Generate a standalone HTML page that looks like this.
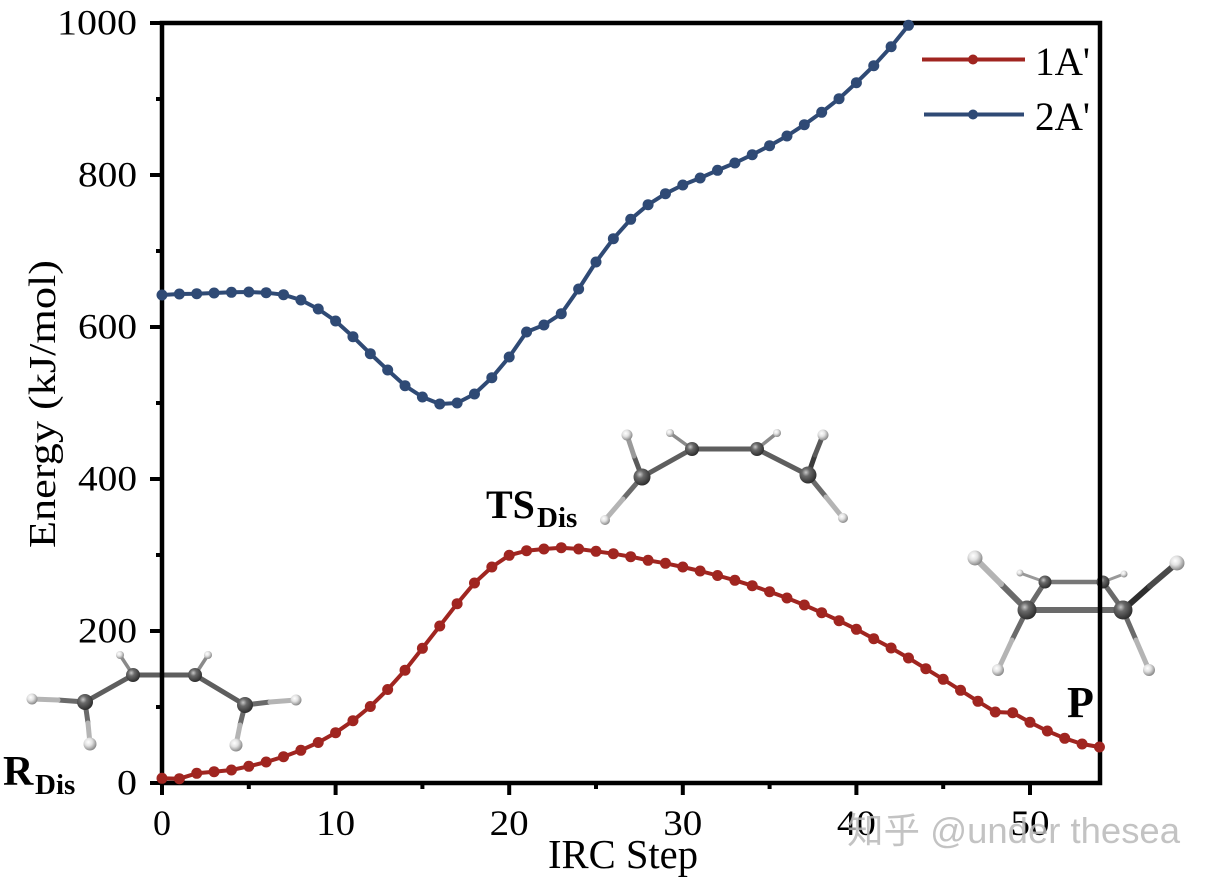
<!DOCTYPE html>
<html>
<head>
<meta charset="utf-8">
<style>
  html,body{margin:0;padding:0;background:#fff;}
  svg{display:block;}
  .tk{font-family:"Liberation Serif",serif;font-size:36px;fill:#000;}
  .bold{font-family:"Liberation Serif",serif;font-weight:bold;fill:#000;}
</style>
</head>
<body>
<svg width="1212" height="879" viewBox="0 0 1212 879" xmlns="http://www.w3.org/2000/svg">
  <defs>
    <radialGradient id="gC" cx="38%" cy="35%" r="65%">
      <stop offset="0" stop-color="#c8c8c8"/>
      <stop offset="0.35" stop-color="#6a6a6a"/>
      <stop offset="1" stop-color="#2e2e2e"/>
    </radialGradient>
    <radialGradient id="gH" cx="38%" cy="35%" r="65%">
      <stop offset="0" stop-color="#ffffff"/>
      <stop offset="0.45" stop-color="#e2e2e2"/>
      <stop offset="1" stop-color="#8a8a8a"/>
    </radialGradient>
  </defs>
  <rect width="1212" height="879" fill="#fff"/>

  <!-- Molecule R -->
  <g stroke-linecap="round">
    <line x1="85" y1="702" x2="133" y2="675" stroke="#5e5e5e" stroke-width="5"/>
    <line x1="133" y1="675" x2="195" y2="675" stroke="#5e5e5e" stroke-width="5"/>
    <line x1="195" y1="675" x2="245" y2="705" stroke="#5e5e5e" stroke-width="5"/>
    <line x1="85" y1="702" x2="58" y2="700" stroke="#6a6a6a" stroke-width="5"/>
    <line x1="58" y1="700" x2="32" y2="699" stroke="#b4b4b4" stroke-width="5"/>
    <line x1="85" y1="702" x2="88" y2="723" stroke="#6a6a6a" stroke-width="5"/>
    <line x1="88" y1="723" x2="90" y2="744" stroke="#b4b4b4" stroke-width="5"/>
    <line x1="133" y1="675" x2="120" y2="655" stroke="#8a8a8a" stroke-width="3.5"/>
    <line x1="195" y1="675" x2="208" y2="655" stroke="#8a8a8a" stroke-width="3.5"/>
    <line x1="245" y1="705" x2="270" y2="702" stroke="#6a6a6a" stroke-width="5"/>
    <line x1="270" y1="702" x2="296" y2="700" stroke="#b4b4b4" stroke-width="5"/>
    <line x1="245" y1="705" x2="240" y2="725" stroke="#6a6a6a" stroke-width="5"/>
    <line x1="240" y1="725" x2="236" y2="745" stroke="#b4b4b4" stroke-width="5"/>
    <circle cx="32" cy="699" r="5.5" fill="url(#gH)"/>
    <circle cx="90" cy="744" r="6.5" fill="url(#gH)"/>
    <circle cx="120" cy="655" r="4" fill="url(#gH)"/>
    <circle cx="208" cy="655" r="4" fill="url(#gH)"/>
    <circle cx="296" cy="700" r="5.5" fill="url(#gH)"/>
    <circle cx="236" cy="745" r="6.5" fill="url(#gH)"/>
    <circle cx="85" cy="702" r="8" fill="url(#gC)"/>
    <circle cx="133" cy="675" r="7" fill="url(#gC)"/>
    <circle cx="195" cy="675" r="7" fill="url(#gC)"/>
    <circle cx="245" cy="705" r="8" fill="url(#gC)"/>
  </g>

  <!-- Molecule TS -->
  <g stroke-linecap="round">
    <line x1="642" y1="477" x2="692" y2="449" stroke="#5e5e5e" stroke-width="5"/>
    <line x1="692" y1="449" x2="757" y2="449" stroke="#5e5e5e" stroke-width="5"/>
    <line x1="757" y1="449" x2="808" y2="475" stroke="#5e5e5e" stroke-width="5"/>
    <line x1="642" y1="477" x2="634" y2="456" stroke="#5a5a5a" stroke-width="5"/>
    <line x1="634" y1="456" x2="627" y2="435" stroke="#9a9a9a" stroke-width="5"/>
    <line x1="642" y1="477" x2="623" y2="499" stroke="#6a6a6a" stroke-width="5"/>
    <line x1="623" y1="499" x2="605" y2="520" stroke="#b4b4b4" stroke-width="5"/>
    <line x1="692" y1="449" x2="670" y2="433" stroke="#8a8a8a" stroke-width="3.5"/>
    <line x1="757" y1="449" x2="777" y2="433" stroke="#8a8a8a" stroke-width="3.5"/>
    <line x1="808" y1="475" x2="815" y2="455" stroke="#3a3a3a" stroke-width="5"/>
    <line x1="815" y1="455" x2="823" y2="435" stroke="#5a5a5a" stroke-width="5"/>
    <line x1="808" y1="475" x2="826" y2="497" stroke="#6a6a6a" stroke-width="5"/>
    <line x1="826" y1="497" x2="843" y2="518" stroke="#b4b4b4" stroke-width="5"/>
    <circle cx="627" cy="435" r="5.5" fill="url(#gH)"/>
    <circle cx="605" cy="520" r="5" fill="url(#gH)"/>
    <circle cx="670" cy="433" r="4" fill="url(#gH)"/>
    <circle cx="777" cy="433" r="4" fill="url(#gH)"/>
    <circle cx="823" cy="435" r="5.5" fill="url(#gH)"/>
    <circle cx="843" cy="518" r="5" fill="url(#gH)"/>
    <circle cx="642" cy="477" r="8.5" fill="url(#gC)"/>
    <circle cx="692" cy="449" r="7" fill="url(#gC)"/>
    <circle cx="757" cy="449" r="7" fill="url(#gC)"/>
    <circle cx="808" cy="475" r="8.5" fill="url(#gC)"/>
  </g>

  <!-- Molecule P -->
  <g stroke-linecap="round">
    <line x1="1045" y1="582" x2="1103" y2="582" stroke="#777" stroke-width="4.5"/>
    <line x1="1045" y1="582" x2="1020" y2="573" stroke="#999" stroke-width="3"/>
    <line x1="1103" y1="582" x2="1124" y2="574" stroke="#999" stroke-width="3"/>
    <line x1="1027" y1="610" x2="1045" y2="582" stroke="#6a6a6a" stroke-width="5"/>
    <line x1="1103" y1="582" x2="1123" y2="610" stroke="#6a6a6a" stroke-width="5"/>
    <line x1="1027" y1="610" x2="1123" y2="610" stroke="#6a6a6a" stroke-width="6"/>
    <line x1="1027" y1="610" x2="1001" y2="584" stroke="#6a6a6a" stroke-width="6"/>
    <line x1="1001" y1="584" x2="975" y2="558" stroke="#b4b4b4" stroke-width="6"/>
    <line x1="1027" y1="610" x2="1012" y2="640" stroke="#6a6a6a" stroke-width="5"/>
    <line x1="1012" y1="640" x2="998" y2="670" stroke="#b4b4b4" stroke-width="5"/>
    <line x1="1123" y1="610" x2="1150" y2="586" stroke="#2e2e2e" stroke-width="6"/>
    <line x1="1150" y1="586" x2="1177" y2="563" stroke="#4a4a4a" stroke-width="6"/>
    <line x1="1123" y1="610" x2="1136" y2="640" stroke="#6a6a6a" stroke-width="5"/>
    <line x1="1136" y1="640" x2="1149" y2="670" stroke="#b4b4b4" stroke-width="5"/>
    <circle cx="1020" cy="573" r="3.5" fill="url(#gH)"/>
    <circle cx="1124" cy="574" r="3.5" fill="url(#gH)"/>
    <circle cx="975" cy="558" r="7.5" fill="url(#gH)"/>
    <circle cx="998" cy="670" r="6" fill="url(#gH)"/>
    <circle cx="1177" cy="563" r="7.5" fill="url(#gH)"/>
    <circle cx="1149" cy="670" r="6" fill="url(#gH)"/>
    <circle cx="1045" cy="582" r="6.5" fill="url(#gC)"/>
    <circle cx="1103" cy="582" r="6.5" fill="url(#gC)"/>
    <circle cx="1027" cy="610" r="9.5" fill="url(#gC)"/>
    <circle cx="1123" cy="610" r="9.5" fill="url(#gC)"/>
  </g>

  <!-- Axes frame -->
  <rect x="162" y="23" width="938" height="760" fill="none" stroke="#000" stroke-width="4.5"/>
  <!-- Y ticks -->
  <g stroke="#000" stroke-width="4">
    <line x1="150" y1="783" x2="162" y2="783"/>
    <line x1="156" y1="707" x2="162" y2="707"/>
    <line x1="150" y1="631" x2="162" y2="631"/>
    <line x1="156" y1="555" x2="162" y2="555"/>
    <line x1="150" y1="479" x2="162" y2="479"/>
    <line x1="156" y1="403" x2="162" y2="403"/>
    <line x1="150" y1="327" x2="162" y2="327"/>
    <line x1="156" y1="251" x2="162" y2="251"/>
    <line x1="150" y1="175" x2="162" y2="175"/>
    <line x1="156" y1="99" x2="162" y2="99"/>
    <line x1="150" y1="23" x2="162" y2="23"/>
  </g>
  <!-- X ticks -->
  <g stroke="#000" stroke-width="4">
    <line x1="162" y1="783" x2="162" y2="795"/>
    <line x1="248.8" y1="783" x2="248.8" y2="789"/>
    <line x1="335.6" y1="783" x2="335.6" y2="795"/>
    <line x1="422.4" y1="783" x2="422.4" y2="789"/>
    <line x1="509.2" y1="783" x2="509.2" y2="795"/>
    <line x1="596" y1="783" x2="596" y2="789"/>
    <line x1="682.8" y1="783" x2="682.8" y2="795"/>
    <line x1="769.6" y1="783" x2="769.6" y2="789"/>
    <line x1="856.4" y1="783" x2="856.4" y2="795"/>
    <line x1="943.2" y1="783" x2="943.2" y2="789"/>
    <line x1="1030" y1="783" x2="1030" y2="795"/>
  </g>

  <!-- Y tick labels -->
  <g class="tk" text-anchor="end">
    <text x="137" y="794.5" textLength="20" lengthAdjust="spacingAndGlyphs">0</text>
    <text x="137" y="642.5" textLength="59" lengthAdjust="spacingAndGlyphs">200</text>
    <text x="137" y="490.5" textLength="59" lengthAdjust="spacingAndGlyphs">400</text>
    <text x="137" y="338.5" textLength="59" lengthAdjust="spacingAndGlyphs">600</text>
    <text x="137" y="186.5" textLength="59" lengthAdjust="spacingAndGlyphs">800</text>
    <text x="137" y="34.5" textLength="80" lengthAdjust="spacingAndGlyphs">1000</text>
  </g>
  <!-- X tick labels -->
  <g class="tk" text-anchor="middle">
    <text x="162" y="835">0</text>
    <text x="335.6" y="835" textLength="39" lengthAdjust="spacingAndGlyphs">10</text>
    <text x="509.2" y="835" textLength="39" lengthAdjust="spacingAndGlyphs">20</text>
    <text x="682.8" y="835" textLength="39" lengthAdjust="spacingAndGlyphs">30</text>
    <text x="856.4" y="835" textLength="39" lengthAdjust="spacingAndGlyphs">40</text>
    <text x="1030" y="835" textLength="39" lengthAdjust="spacingAndGlyphs">50</text>
  </g>

  <!-- Axis titles -->
  <text x="548" y="868" font-family="Liberation Serif, serif" font-size="41" textLength="150" lengthAdjust="spacingAndGlyphs">IRC Step</text>
  <text transform="translate(55,404) rotate(-90)" text-anchor="middle" font-family="Liberation Serif, serif" font-size="38" textLength="288" lengthAdjust="spacingAndGlyphs">Energy (kJ/mol)</text>

  <!-- Labels -->
  <text class="bold" x="3" y="785" font-size="42">R</text>
  <text class="bold" x="35" y="794" font-size="29">Dis</text>
  <text class="bold" x="486" y="518" font-size="40">TS</text>
  <text class="bold" x="537" y="527" font-size="29">Dis</text>
  <text class="bold" x="1067" y="717" font-size="44">P</text>

  <!-- Blue series 2A' -->
  <g fill="#2f4a75">
    <polyline fill="none" stroke="#2f4a75" stroke-width="4" stroke-linejoin="round" points="162,295 179.36,294 196.72,293.7 214.08,293 231.44,292.3 248.8,292 266.16,292.7 283.52,294.7 300.88,300 318.24,309 335.6,321 352.96,336.7 370.32,353.7 387.68,370 405.04,385.7 422.4,397 439.76,404 457.12,403 474.48,394 491.84,377.7 509.2,357 526.56,332 543.92,325 561.28,313.7 578.64,289 596,262 613.36,238.7 630.72,219.3 648.08,204.7 665.44,193.7 682.8,185 700.16,178 717.52,170.3 734.88,163 752.24,154.7 769.6,145.7 786.96,136 804.32,124.7 821.68,112.3 839.04,98.7 856.4,82.7 873.76,65.7 891.12,46.7 908.48,25.3"/>
    <circle cx="162" cy="295" r="5.5"/><circle cx="179.36" cy="294" r="5.5"/><circle cx="196.72" cy="293.7" r="5.5"/><circle cx="214.08" cy="293" r="5.5"/><circle cx="231.44" cy="292.3" r="5.5"/><circle cx="248.8" cy="292" r="5.5"/><circle cx="266.16" cy="292.7" r="5.5"/><circle cx="283.52" cy="294.7" r="5.5"/><circle cx="300.88" cy="300" r="5.5"/><circle cx="318.24" cy="309" r="5.5"/><circle cx="335.6" cy="321" r="5.5"/><circle cx="352.96" cy="336.7" r="5.5"/><circle cx="370.32" cy="353.7" r="5.5"/><circle cx="387.68" cy="370" r="5.5"/><circle cx="405.04" cy="385.7" r="5.5"/><circle cx="422.4" cy="397" r="5.5"/><circle cx="439.76" cy="404" r="5.5"/><circle cx="457.12" cy="403" r="5.5"/><circle cx="474.48" cy="394" r="5.5"/><circle cx="491.84" cy="377.7" r="5.5"/><circle cx="509.2" cy="357" r="5.5"/><circle cx="526.56" cy="332" r="5.5"/><circle cx="543.92" cy="325" r="5.5"/><circle cx="561.28" cy="313.7" r="5.5"/><circle cx="578.64" cy="289" r="5.5"/><circle cx="596" cy="262" r="5.5"/><circle cx="613.36" cy="238.7" r="5.5"/><circle cx="630.72" cy="219.3" r="5.5"/><circle cx="648.08" cy="204.7" r="5.5"/><circle cx="665.44" cy="193.7" r="5.5"/><circle cx="682.8" cy="185" r="5.5"/><circle cx="700.16" cy="178" r="5.5"/><circle cx="717.52" cy="170.3" r="5.5"/><circle cx="734.88" cy="163" r="5.5"/><circle cx="752.24" cy="154.7" r="5.5"/><circle cx="769.6" cy="145.7" r="5.5"/><circle cx="786.96" cy="136" r="5.5"/><circle cx="804.32" cy="124.7" r="5.5"/><circle cx="821.68" cy="112.3" r="5.5"/><circle cx="839.04" cy="98.7" r="5.5"/><circle cx="856.4" cy="82.7" r="5.5"/><circle cx="873.76" cy="65.7" r="5.5"/><circle cx="891.12" cy="46.7" r="5.5"/><circle cx="908.48" cy="25.3" r="5.5"/>
  </g>

  <!-- Red series 1A' -->
  <g fill="#a02520">
    <polyline fill="none" stroke="#a02520" stroke-width="4" stroke-linejoin="round" points="162,778.3 179.36,778.7 196.72,773.3 214.08,771.7 231.44,770 248.8,766.3 266.16,762 283.52,756.7 300.88,750.3 318.24,742.5 335.6,732.7 352.96,720.7 370.32,706.5 387.68,689.5 405.04,670.2 422.4,648.3 439.76,626 457.12,603.7 474.48,583 491.84,567 509.2,555.3 526.56,550.7 543.92,549 561.28,547.7 578.64,549 596,551.3 613.36,553.7 630.72,556.7 648.08,560.3 665.44,563.3 682.8,567 700.16,571 717.52,575.5 734.88,580.3 752.24,585.7 769.6,591.7 786.96,598 804.32,605 821.68,612.7 839.04,620.7 856.4,629.3 873.76,638.7 891.12,648 908.48,658 925.84,668.7 943.2,679.3 960.56,690.3 977.92,701.3 995.28,712 1012.64,712.7 1030,722.3 1047.36,731 1064.72,738.3 1082.08,744 1099.44,747"/>
    <circle cx="162" cy="778.3" r="5.5"/><circle cx="179.36" cy="778.7" r="5.5"/><circle cx="196.72" cy="773.3" r="5.5"/><circle cx="214.08" cy="771.7" r="5.5"/><circle cx="231.44" cy="770" r="5.5"/><circle cx="248.8" cy="766.3" r="5.5"/><circle cx="266.16" cy="762" r="5.5"/><circle cx="283.52" cy="756.7" r="5.5"/><circle cx="300.88" cy="750.3" r="5.5"/><circle cx="318.24" cy="742.5" r="5.5"/><circle cx="335.6" cy="732.7" r="5.5"/><circle cx="352.96" cy="720.7" r="5.5"/><circle cx="370.32" cy="706.5" r="5.5"/><circle cx="387.68" cy="689.5" r="5.5"/><circle cx="405.04" cy="670.2" r="5.5"/><circle cx="422.4" cy="648.3" r="5.5"/><circle cx="439.76" cy="626" r="5.5"/><circle cx="457.12" cy="603.7" r="5.5"/><circle cx="474.48" cy="583" r="5.5"/><circle cx="491.84" cy="567" r="5.5"/><circle cx="509.2" cy="555.3" r="5.5"/><circle cx="526.56" cy="550.7" r="5.5"/><circle cx="543.92" cy="549" r="5.5"/><circle cx="561.28" cy="547.7" r="5.5"/><circle cx="578.64" cy="549" r="5.5"/><circle cx="596" cy="551.3" r="5.5"/><circle cx="613.36" cy="553.7" r="5.5"/><circle cx="630.72" cy="556.7" r="5.5"/><circle cx="648.08" cy="560.3" r="5.5"/><circle cx="665.44" cy="563.3" r="5.5"/><circle cx="682.8" cy="567" r="5.5"/><circle cx="700.16" cy="571" r="5.5"/><circle cx="717.52" cy="575.5" r="5.5"/><circle cx="734.88" cy="580.3" r="5.5"/><circle cx="752.24" cy="585.7" r="5.5"/><circle cx="769.6" cy="591.7" r="5.5"/><circle cx="786.96" cy="598" r="5.5"/><circle cx="804.32" cy="605" r="5.5"/><circle cx="821.68" cy="612.7" r="5.5"/><circle cx="839.04" cy="620.7" r="5.5"/><circle cx="856.4" cy="629.3" r="5.5"/><circle cx="873.76" cy="638.7" r="5.5"/><circle cx="891.12" cy="648" r="5.5"/><circle cx="908.48" cy="658" r="5.5"/><circle cx="925.84" cy="668.7" r="5.5"/><circle cx="943.2" cy="679.3" r="5.5"/><circle cx="960.56" cy="690.3" r="5.5"/><circle cx="977.92" cy="701.3" r="5.5"/><circle cx="995.28" cy="712" r="5.5"/><circle cx="1012.64" cy="712.7" r="5.5"/><circle cx="1030" cy="722.3" r="5.5"/><circle cx="1047.36" cy="731" r="5.5"/><circle cx="1064.72" cy="738.3" r="5.5"/><circle cx="1082.08" cy="744" r="5.5"/><circle cx="1099.44" cy="747" r="5.5"/>
  </g>

  <!-- Legend -->
  <line x1="922" y1="59.5" x2="1025" y2="59.5" stroke="#a02520" stroke-width="4"/>
  <circle cx="973" cy="59.5" r="5" fill="#a02520"/>
  <text x="1035" y="75" font-family="Liberation Serif, serif" font-size="40" textLength="55" lengthAdjust="spacingAndGlyphs">1A'</text>
  <line x1="924" y1="114.5" x2="1024" y2="114.5" stroke="#2f4a75" stroke-width="4"/>
  <circle cx="973" cy="114.5" r="5" fill="#2f4a75"/>
  <text x="1035" y="130" font-family="Liberation Serif, serif" font-size="40" textLength="55" lengthAdjust="spacingAndGlyphs">2A'</text>

  <!-- Watermark -->
  <text x="847" y="843" font-family="Liberation Sans, Noto Sans CJK SC, sans-serif" font-size="36" fill="#b8b8b8" fill-opacity="0.85" textLength="333" lengthAdjust="spacingAndGlyphs">知乎 @under thesea</text>
</svg>
</body>
</html>
